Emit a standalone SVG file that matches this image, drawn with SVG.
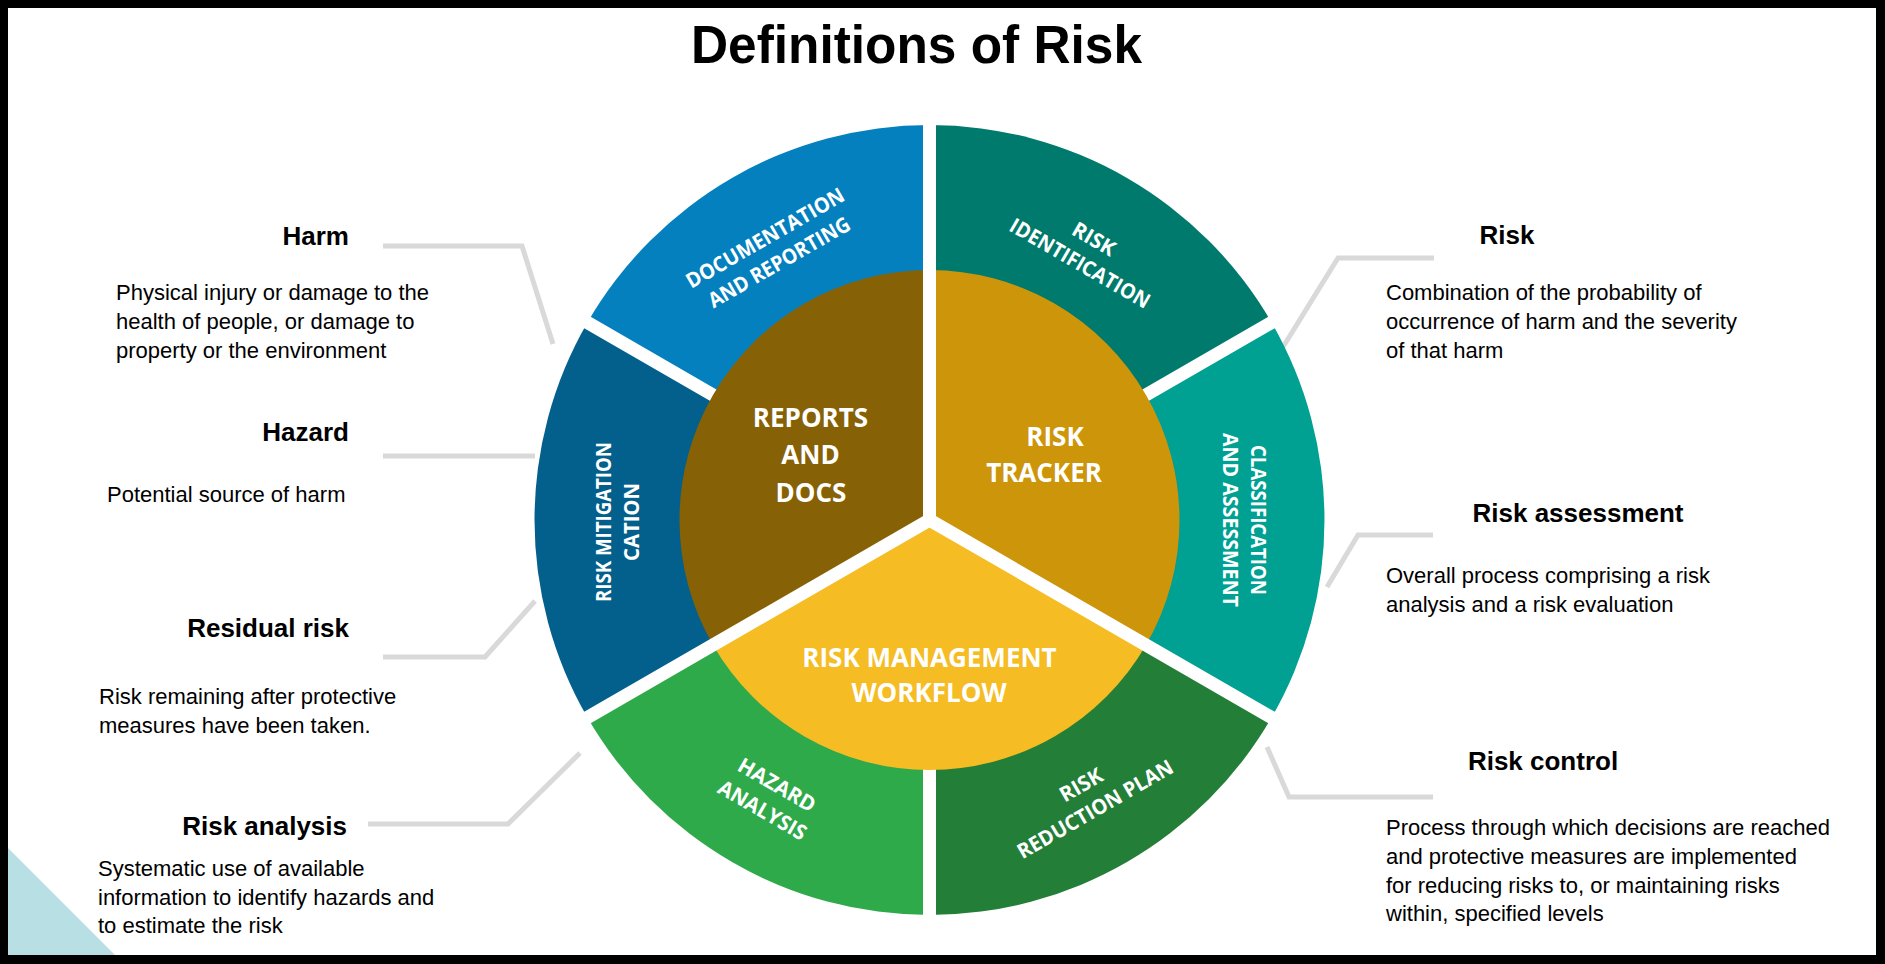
<svg xmlns="http://www.w3.org/2000/svg" width="1885" height="964" viewBox="0 0 1885 964">
<style>
.title{font-family:"Liberation Sans",Arial,sans-serif;font-weight:bold;font-size:53px;fill:#000}
.head{font-family:"Liberation Sans",Arial,sans-serif;font-weight:bold;font-size:26px;fill:#000}
.body{font-family:"Liberation Sans",Arial,sans-serif;font-size:22px;fill:#000}
.seg{font-family:"Open Sans","Liberation Sans",sans-serif;font-weight:bold;font-size:21px;fill:#fff;text-anchor:middle}
.inner{font-family:"Open Sans","Liberation Sans",sans-serif;font-weight:bold;font-size:26px;fill:#fff;text-anchor:middle}
.gap{stroke:#fff;stroke-width:13;fill:none}
.conn{stroke:#D9D9D9;stroke-width:5;fill:none;stroke-linejoin:miter}
</style>
<rect x="0" y="0" width="1885" height="964" fill="#000"/>
<rect x="8" y="8" width="1868" height="947" fill="#fff"/>
<polygon points="8,848 8,955 115,955" fill="#B8DFE3"/>

<g id="title"><text class="title" x="916.5" y="63" text-anchor="middle" textLength="451" lengthAdjust="spacingAndGlyphs">Definitions of Risk</text></g>

<g id="connectors">
<path class="conn" d="M383,246 L522,246 L553,344"/>
<path class="conn" d="M383,456 L535,456"/>
<path class="conn" d="M383,657 L485,657 L535,601"/>
<path class="conn" d="M368,824 L508,824 L580,753"/>
<path class="conn" d="M1434,258 L1338,258 L1283,347"/>
<path class="conn" d="M1433,535 L1358,535 L1327,587"/>
<path class="conn" d="M1267,747 L1289,797 L1433,797"/>
</g>

<g id="wheel">
<g id="seg-risk-identification"><path d="M929.5,520 L929.5,125 A395,395 0 0 1 1271.57,322.5 Z" fill="#007A6C"/></g>
<g id="seg-classification"><path d="M929.5,520 L1271.57,322.5 A395,395 0 0 1 1271.57,717.5 Z" fill="#00A093"/></g>
<g id="seg-risk-reduction"><path d="M929.5,520 L1271.57,717.5 A395,395 0 0 1 929.5,915 Z" fill="#237F38"/></g>
<g id="seg-hazard-analysis"><path d="M929.5,520 L929.5,915 A395,395 0 0 1 587.43,717.5 Z" fill="#2FAA4A"/></g>
<g id="seg-risk-mitigation"><path d="M929.5,520 L587.43,717.5 A395,395 0 0 1 587.43,322.5 Z" fill="#035F8B"/></g>
<g id="seg-documentation"><path d="M929.5,520 L587.43,322.5 A395,395 0 0 1 929.5,125 Z" fill="#0480BE"/></g>
<path class="gap" d="M929.5,520 L1273.3,321.5 M929.5,520 L929.5,917 M929.5,520 L585.7,321.5"/>
<g id="inner-risk-tracker"><path d="M929.5,520 L929.5,270 A250,250 0 0 1 1146.01,645 Z" fill="#CC950A"/></g>
<g id="inner-workflow"><path d="M929.5,520 L1146.01,645 A250,250 0 0 1 712.99,645 Z" fill="#F5BC24"/></g>
<g id="inner-reports"><path d="M929.5,520 L712.99,645 A250,250 0 0 1 929.5,270 Z" fill="#876106"/></g>
<path class="gap" d="M929.5,520 L929.5,123 M929.5,520 L1273.3,718.5 M929.5,520 L585.7,718.5"/>
</g>

<g id="labels-ring">
<g transform="translate(772,250) rotate(-30)"><text class="seg" x="0" y="-6.5" textLength="179" lengthAdjust="spacingAndGlyphs">DOCUMENTATION</text><text class="seg" x="0" y="21.5" textLength="160" lengthAdjust="spacingAndGlyphs">AND REPORTING</text></g>
<g transform="translate(1087,251) rotate(30)"><text class="seg" x="0" y="-6.5" textLength="46" lengthAdjust="spacingAndGlyphs">RISK</text><text class="seg" x="0" y="21.5" textLength="158" lengthAdjust="spacingAndGlyphs">IDENTIFICATION</text></g>
<g transform="translate(1244,520) rotate(90)"><text class="seg" x="0" y="-6.5" textLength="150" lengthAdjust="spacingAndGlyphs">CLASSIFICATION</text><text class="seg" x="0" y="21.5" textLength="174" lengthAdjust="spacingAndGlyphs">AND ASSESSMENT</text></g>
<g transform="translate(1088,797) rotate(-30)"><text class="seg" x="0" y="-6.5" textLength="46" lengthAdjust="spacingAndGlyphs">RISK</text><text class="seg" x="0" y="21.5" textLength="176" lengthAdjust="spacingAndGlyphs">REDUCTION PLAN</text></g>
<g transform="translate(770,797) rotate(30)"><text class="seg" x="0" y="-6.5" textLength="86" lengthAdjust="spacingAndGlyphs">HAZARD</text><text class="seg" x="0" y="22.5" textLength="98" lengthAdjust="spacingAndGlyphs">ANALYSIS</text></g>
<g transform="translate(616.5,522) rotate(-90)"><text class="seg" x="0" y="-5.5" textLength="160" lengthAdjust="spacingAndGlyphs">RISK MITIGATION</text><text class="seg" x="0" y="22" textLength="78" lengthAdjust="spacingAndGlyphs">CATION</text></g>
</g>

<g id="labels-inner">
<text class="inner" x="810.5" y="427">REPORTS</text>
<text class="inner" x="810.5" y="464">AND</text>
<text class="inner" x="811" y="502">DOCS</text>
<text class="inner" x="1055" y="446">RISK</text>
<text class="inner" x="1044" y="482">TRACKER</text>
<text class="inner" x="929.5" y="667">RISK MANAGEMENT</text>
<text class="inner" x="929" y="702">WORKFLOW</text>
</g>

<g id="def-harm">
<text class="head" x="349" y="245" text-anchor="end">Harm</text>
<text class="body"><tspan x="116" y="300">Physical injury or damage to the</tspan><tspan x="116" y="329">health of people, or damage to</tspan><tspan x="116" y="358">property or the environment</tspan></text>
</g>
<g id="def-hazard">
<text class="head" x="349" y="441" text-anchor="end">Hazard</text>
<text class="body" x="107" y="502">Potential source of harm</text>
</g>
<g id="def-residual-risk">
<text class="head" x="349" y="637" text-anchor="end">Residual risk</text>
<text class="body"><tspan x="99" y="704">Risk remaining after protective</tspan><tspan x="99" y="733">measures have been taken.</tspan></text>
</g>
<g id="def-risk-analysis">
<text class="head" x="347" y="835" text-anchor="end">Risk analysis</text>
<text class="body"><tspan x="98" y="876">Systematic use of available</tspan><tspan x="98" y="905">information to identify hazards and</tspan><tspan x="98" y="933">to estimate the risk</tspan></text>
</g>
<g id="def-risk">
<text class="head" x="1507" y="244" text-anchor="middle">Risk</text>
<text class="body"><tspan x="1386" y="300">Combination of the probability of</tspan><tspan x="1386" y="329">occurrence of harm and the severity</tspan><tspan x="1386" y="358">of that harm</tspan></text>
</g>
<g id="def-risk-assessment">
<text class="head" x="1578" y="522" text-anchor="middle">Risk assessment</text>
<text class="body"><tspan x="1386" y="583">Overall process comprising a risk</tspan><tspan x="1386" y="612">analysis and a risk evaluation</tspan></text>
</g>
<g id="def-risk-control">
<text class="head" x="1543" y="770" text-anchor="middle">Risk control</text>
<text class="body"><tspan x="1386" y="835">Process through which decisions are reached</tspan><tspan x="1386" y="864">and protective measures are implemented</tspan><tspan x="1386" y="893">for reducing risks to, or maintaining risks</tspan><tspan x="1386" y="921">within, specified levels</tspan></text>
</g>
</svg>
